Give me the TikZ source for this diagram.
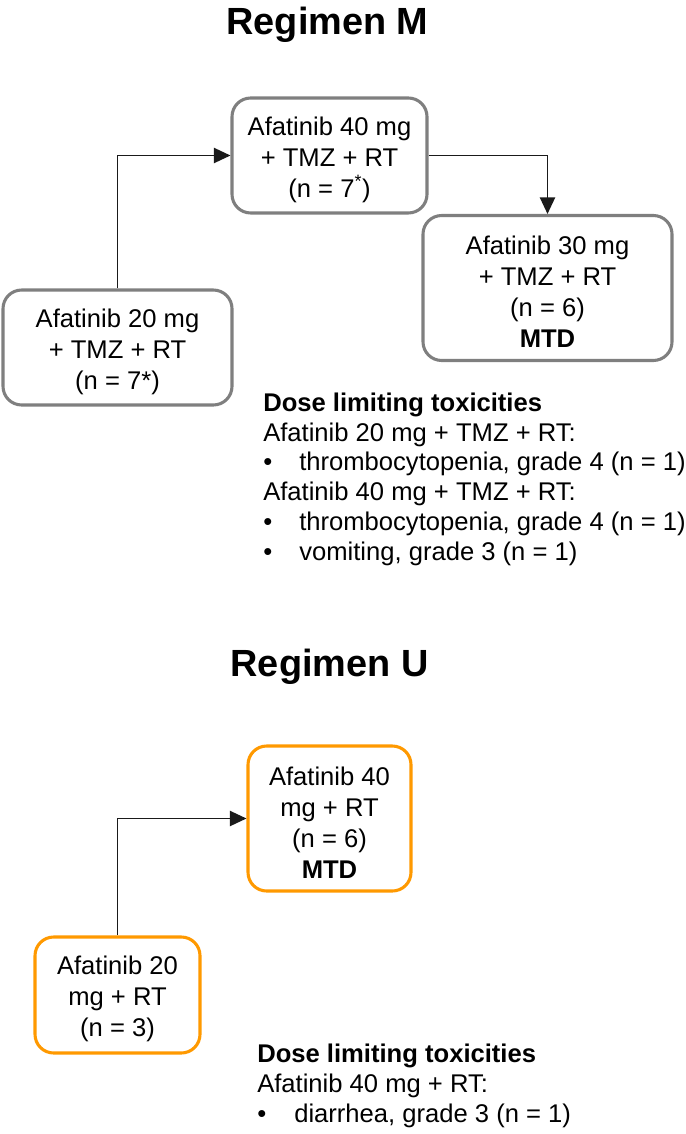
\documentclass[tikz,border=0pt]{standalone}
\usepackage{fontspec}
\setmainfont{Liberation Sans}
\usetikzlibrary{arrows.meta}
\definecolor{boxgray}{HTML}{7F7F7F}
\definecolor{boxorange}{HTML}{FF9900}
\definecolor{linec}{HTML}{1A1A1A}
\newcommand{\toplift}{\rule{0pt}{20pt}}
\begin{document}
\begin{tikzpicture}[x=0.75pt,y=-0.75pt,
  boxbase/.style={draw,line width=2.3pt,rounded corners=14pt,fill=white,inner sep=0pt,
    align=center,font=\fontsize{19.2}{23.2}\selectfont},
  graybox/.style={boxbase,draw=boxgray},
  orangebox/.style={boxbase,draw=boxorange},
  conn/.style={draw=linec,line width=1.1pt,-{Triangle[length=12.5pt,width=11.5pt]}},
  titletext/.style={font=\fontsize{28.4}{34}\selectfont\bfseries,anchor=base,inner sep=0pt},
  dlttext/.style={font=\fontsize{19.2}{22.5}\selectfont,anchor=base west,inner sep=0pt}
]
\useasboundingbox (0,0) rectangle (685,1134);

% Regimen M
\node[titletext] (tM) at (327.5,35) {Regimen M};
\node[graybox,minimum width=195*0.75pt,minimum height=115*0.75pt] (A40) at (329.5,155.5)
  {\toplift Afatinib 40 mg\\+ TMZ + RT\\(n = 7\textsuperscript{*})};
\node[graybox,minimum width=249*0.75pt,minimum height=145*0.75pt] (A30) at (547.5,288)
  {\toplift Afatinib 30 mg\\+ TMZ + RT\\(n = 6)\\\textbf{MTD}};
\node[graybox,minimum width=229*0.75pt,minimum height=115*0.75pt] (A20) at (117.5,347.5)
  {\toplift Afatinib 20 mg\\+ TMZ + RT\\(n = 7*)};
\draw[conn] (A20.north) |- (A40.west);
\draw[conn] (A40.east) -| (A30.north);

\node[dlttext] (dM0) at (263,411) {\bfseries Dose limiting toxicities};
\node[dlttext] (dM1) at (263,441) {Afatinib 20 mg + TMZ + RT:};
\node[dlttext] (dM2b) at (263,470) {•};
\node[dlttext] (dM2) at (299,470) {thrombocytopenia, grade 4 (n = 1)};
\node[dlttext] (dM3) at (263,500) {Afatinib 40 mg + TMZ + RT:};
\node[dlttext] (dM4b) at (263,530) {•};
\node[dlttext] (dM4) at (299,530) {thrombocytopenia, grade 4 (n = 1)};
\node[dlttext] (dM5b) at (263,560) {•};
\node[dlttext] (dM5) at (299,560) {vomiting, grade 3 (n = 1)};

% Regimen U
\node[titletext] (tU) at (329.5,676) {Regimen U};
\node[orangebox,minimum width=163*0.75pt,minimum height=145*0.75pt] (U40) at (329.5,818.5)
  {\toplift Afatinib 40\\mg + RT\\(n = 6)\\\textbf{MTD}};
\node[orangebox,minimum width=165*0.75pt,minimum height=116*0.75pt] (U20) at (117.5,995)
  {\toplift Afatinib 20\\mg + RT\\(n = 3)};
\draw[conn] (U20.north) |- (U40.west);

\node[dlttext] (dU0) at (257,1062) {\bfseries Dose limiting toxicities};
\node[dlttext] (dU1) at (257,1092) {Afatinib 40 mg + RT:};
\node[dlttext] (dU2b) at (257,1122) {•};
\node[dlttext] (dU2) at (294,1122) {diarrhea, grade 3 (n = 1)};
\end{tikzpicture}
\end{document}
